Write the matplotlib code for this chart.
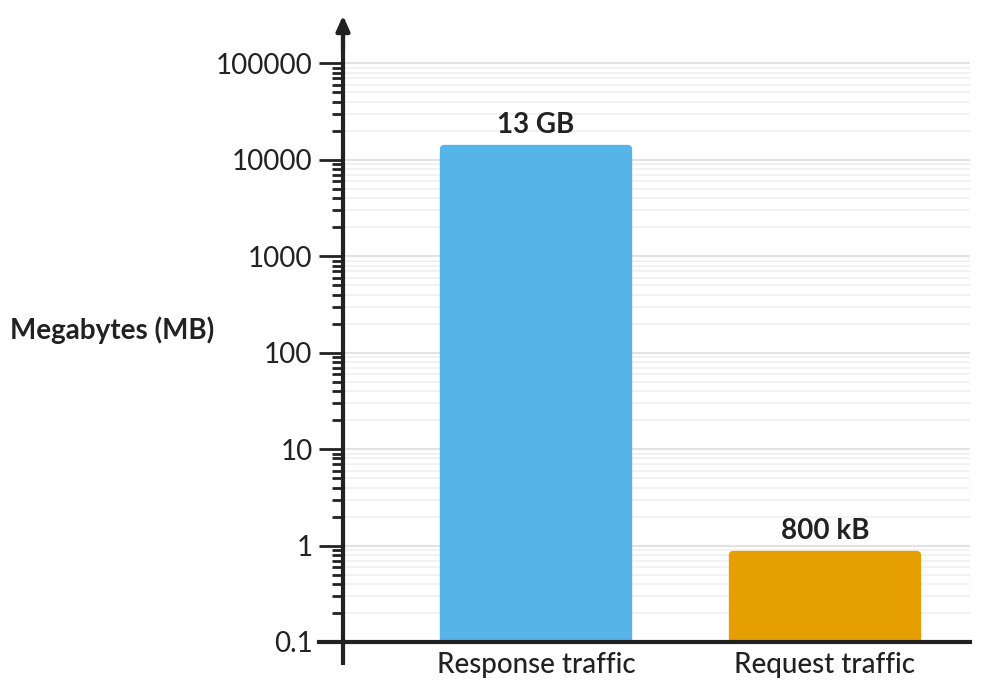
import matplotlib
matplotlib.use("Agg")
import matplotlib.pyplot as plt
from matplotlib.ticker import FixedLocator, NullFormatter

categories = ["Response traffic", "Request traffic"]
megabytes = [13000, 0.8]
bar_labels = ["13 GB", "800 kB"]
bar_colors = ["#56B4E9", "#E69F00"]
ytick_values = [0.1, 1, 10, 100, 1000, 10000, 100000]
ytick_labels = ["0.1", "1", "10", "100", "1000", "10000", "100000"]

plt.rcParams["font.family"] = ["Lato", "DejaVu Sans"]
ink = "#222222"
floor = 0.1

fig = plt.figure(figsize=(10, 6.96), dpi=100)
ax = fig.add_axes([0.343, 1 - 642 / 696, 0.627, (642 - 22) / 696])

x = list(range(len(categories)))
# thick rounded edge in the bar colour gives the soft corners
ax.bar(x, [v - floor for v in megabytes], width=0.636, bottom=floor,
       color=bar_colors, edgecolor=bar_colors, linewidth=6,
       joinstyle="round", zorder=2)
for xi, v, lab in zip(x, megabytes, bar_labels):
    ax.annotate(lab, (xi, v), xytext=(0, 8), textcoords="offset points",
                ha="center", va="bottom", fontsize=20, fontweight="bold", color=ink)

ax.set_yscale("log")
ax.set_ylim(floor, 10 ** 5.43)
ax.set_xlim(-0.668, 1.502)

minor = [m * 10.0 ** e for e in range(-1, 5) for m in range(2, 10)]
ax.yaxis.set_major_locator(FixedLocator(ytick_values))
ax.set_yticklabels(ytick_labels)
ax.yaxis.set_minor_locator(FixedLocator(minor))
ax.yaxis.set_minor_formatter(NullFormatter())
ax.grid(which="major", axis="y", color="#e2e2e2", linewidth=1.5, zorder=0)
ax.grid(which="minor", axis="y", color="#f0f0f0", linewidth=1.2, zorder=0)
ax.set_axisbelow(True)

ax.tick_params(axis="y", which="major", length=17, width=2, color=ink,
               labelsize=20, labelcolor=ink, pad=5)
ax.tick_params(axis="y", which="minor", length=8, width=2, color=ink)
ax.set_xticks(x)
ax.set_xticklabels(categories, fontweight="medium")
ax.tick_params(axis="x", length=0, labelsize=20, labelcolor=ink, pad=7)

for s in ["top", "right"]:
    ax.spines[s].set_visible(False)
ax.spines["left"].set_linewidth(3)
ax.spines["left"].set_color(ink)
ax.spines["bottom"].set_linewidth(3)
ax.spines["bottom"].set_color(ink)
ax.spines["bottom"].set_bounds(-0.75, 1.502)
ax.spines["bottom"].set_clip_on(False)
ax.spines["bottom"].set_zorder(3)

# spine below x axis and arrow head on top
ax.plot([0, 0], [-0.037, 0], transform=ax.transAxes, color=ink, lw=3,
        clip_on=False, solid_capstyle="butt")
ax.annotate("", xy=(0, 1.015), xytext=(0, 0.95), xycoords="axes fraction",
            arrowprops=dict(arrowstyle="-|>,head_length=0.9,head_width=0.4",
                            color=ink, lw=3))

fig.text(0.01, 1 - 330 / 696, "Megabytes (MB)", fontsize=20, fontweight="bold",
         color=ink, ha="left", va="center")

fig.savefig("out.png", dpi=100)
